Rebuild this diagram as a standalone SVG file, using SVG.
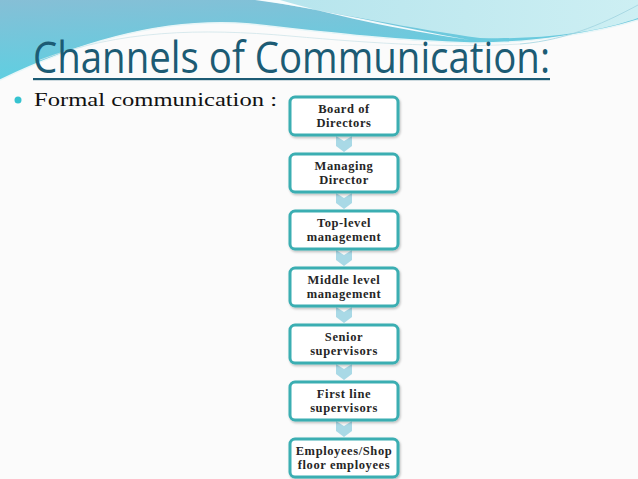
<svg xmlns="http://www.w3.org/2000/svg" width="638" height="479" viewBox="0 0 638 479">
<defs>
<linearGradient id="gLeft" x1="0" y1="0" x2="0.3" y2="1">
<stop offset="0" stop-color="#86bfd6"/>
<stop offset="1" stop-color="#5cd0e2"/>
</linearGradient>
<linearGradient id="gRight" x1="0" y1="0" x2="1" y2="0">
<stop offset="0" stop-color="#b3e3ec"/>
<stop offset="1" stop-color="#cdeff3"/>
</linearGradient>
<filter id="sh" x="-10%" y="-10%" width="130%" height="140%">
<feDropShadow dx="1" dy="1.5" stdDeviation="1.2" flood-color="#000" flood-opacity="0.25"/>
</filter>
</defs>
<style>
.box{fill:#ffffff;stroke:#3aaeb2;stroke-width:3;}
.lbl{font-family:"Liberation Serif","DejaVu Serif",serif;font-weight:bold;font-size:12.5px;letter-spacing:0.6px;fill:#262626;text-anchor:middle;}
.arr{fill:#a9d9e6;}
</style>
<rect x="0" y="0" width="638" height="479" fill="#fbfbfb"/>
<!-- top waves -->
<path d="M0,0 H638 V20 C600,32 530,44 470,43 C400,41 330,33 250,24 C180,18 100,32 0,80 Z" fill="url(#gLeft)"/>
<path d="M230,0 H638 V18 C610,28 560,40 480,38 C420,30 330,12 260,0 Z" fill="url(#gRight)"/>
<path d="M255,0 C330,10 400,28 470,40 C420,33 340,18 280,0 Z" fill="#ffffff" opacity="0.9"/>
<path d="M0,80 C100,32 180,18 250,24 C330,33 400,41 470,43 C530,44 600,32 638,20" fill="none" stroke="#e8f6f8" stroke-width="1.5"/>
<path d="M40,60 C120,30 200,28 290,36 C380,44 450,48 520,44" fill="none" stroke="#cfe5ea" stroke-width="0.8"/>
<path d="M520,44 C570,40 610,20 638,5" fill="none" stroke="#9fd3e0" stroke-width="0.8"/>
<!-- title -->
<text x="33" y="73" font-family="'Open Sans','Liberation Sans',sans-serif" font-size="44" fill="#1c5b74" textLength="517" lengthAdjust="spacingAndGlyphs">Channels of Communication:</text>
<rect x="33" y="78" width="517" height="2.2" fill="#1c5b74"/>
<!-- bullet -->
<circle cx="18" cy="100" r="3.5" fill="#36c3d0"/>
<text x="34" y="106" font-family="'Liberation Serif','DejaVu Serif',serif" font-size="19" fill="#111" textLength="243" lengthAdjust="spacingAndGlyphs">Formal communication :</text>
<!-- connectors -->
<g id="connectors">
<path class="arr" d="M336,136 L344,141 L352,136 L352,146 L344,152 L336,146 Z"/>
<path class="arr" d="M336,193 L344,198 L352,193 L352,203 L344,209 L336,203 Z"/>
<path class="arr" d="M336,250 L344,255 L352,250 L352,260 L344,266 L336,260 Z"/>
<path class="arr" d="M336,307 L344,312 L352,307 L352,317 L344,323 L336,317 Z"/>
<path class="arr" d="M336,364 L344,369 L352,364 L352,374 L344,380 L336,374 Z"/>
<path class="arr" d="M336,421 L344,426 L352,421 L352,431 L344,437 L336,431 Z"/>
</g>
<g id="n1"><rect class="box" x="290" y="97" width="108" height="38" rx="5" filter="url(#sh)"/><text class="lbl" x="344" y="113">Board of</text><text class="lbl" x="344" y="127">Directors</text></g>
<g id="n2"><rect class="box" x="290" y="154" width="108" height="38" rx="5" filter="url(#sh)"/><text class="lbl" x="344" y="170">Managing</text><text class="lbl" x="344" y="184">Director</text></g>
<g id="n3"><rect class="box" x="290" y="211" width="108" height="38" rx="5" filter="url(#sh)"/><text class="lbl" x="344" y="227">Top-level</text><text class="lbl" x="344" y="241">management</text></g>
<g id="n4"><rect class="box" x="290" y="268" width="108" height="38" rx="5" filter="url(#sh)"/><text class="lbl" x="344" y="284">Middle level</text><text class="lbl" x="344" y="298">management</text></g>
<g id="n5"><rect class="box" x="290" y="325" width="108" height="38" rx="5" filter="url(#sh)"/><text class="lbl" x="344" y="341">Senior</text><text class="lbl" x="344" y="355">supervisors</text></g>
<g id="n6"><rect class="box" x="290" y="382" width="108" height="38" rx="5" filter="url(#sh)"/><text class="lbl" x="344" y="398">First line</text><text class="lbl" x="344" y="412">supervisors</text></g>
<g id="n7"><rect class="box" x="290" y="439" width="108" height="38" rx="5" filter="url(#sh)"/><text class="lbl" x="344" y="455">Employees/Shop</text><text class="lbl" x="344" y="469">floor employees</text></g>
</svg>
